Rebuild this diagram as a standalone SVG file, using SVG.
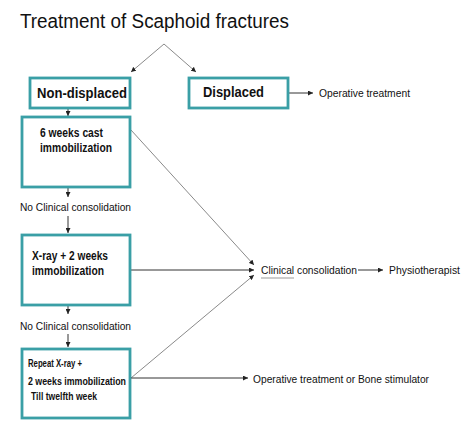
<svg xmlns="http://www.w3.org/2000/svg" width="474" height="443" viewBox="0 0 474 443">
<style>
.box{fill:#fff;stroke:#3a9fa6;stroke-width:2.8}
.t{font-family:"Liberation Sans",Arial,sans-serif;fill:#111}
.b{font-weight:bold}
.ln{fill:none;stroke:#8a8a8a;stroke-width:1}
.dk{fill:none;stroke:#333;stroke-width:1}
</style>
<defs>
<marker id="ah" viewBox="0 0 6 6" refX="6" refY="3" markerWidth="5" markerHeight="5" orient="auto" markerUnits="userSpaceOnUse">
<path d="M0,0 L6,3 L0,6 z" fill="#222"/>
</marker>
</defs>
<rect width="474" height="443" fill="#fff"/>
<text class="t" x="20" y="28" font-size="20" textLength="269" lengthAdjust="spacingAndGlyphs">Treatment of Scaphoid fractures</text>
<g id="connectors">
<path class="ln" d="M164,44 L131,72" marker-end="url(#ah)"/>
<path class="ln" d="M164,44 L196,72" marker-end="url(#ah)"/>
<path class="dk" d="M289,93 L313,93" marker-end="url(#ah)"/>
<path class="dk" d="M68,109 L68,116" marker-end="url(#ah)"/>
<path class="dk" d="M68,188 L68,197" marker-end="url(#ah)"/>
<path class="dk" d="M68,216 L68,233" marker-end="url(#ah)"/>
<path class="dk" d="M68,306 L68,314" marker-end="url(#ah)"/>
<path class="dk" d="M68,334 L68,347" marker-end="url(#ah)"/>
<path class="ln" d="M131,130 L254,265" marker-end="url(#ah)"/>
<path class="dk" d="M131,270 L254,270" marker-end="url(#ah)"/>
<path class="ln" d="M131,378 L254,275" marker-end="url(#ah)"/>
<path class="dk" d="M358,270 L383,270" marker-end="url(#ah)"/>
<path class="dk" d="M131,378 L248,378" marker-end="url(#ah)"/>
</g>
<g id="non-displaced">
<rect class="box" x="30" y="78" width="100" height="30"/>
<text class="t b" x="37" y="98" font-size="14" textLength="90" lengthAdjust="spacingAndGlyphs">Non-displaced</text>
</g>
<g id="displaced">
<rect class="box" x="189" y="78" width="99" height="30"/>
<text class="t b" x="203" y="97" font-size="14" textLength="61" lengthAdjust="spacingAndGlyphs">Displaced</text>
</g>
<g id="operative-treatment">
<text class="t" x="319" y="97" font-size="10.5" textLength="91" lengthAdjust="spacingAndGlyphs">Operative treatment</text>
</g>
<g id="cast">
<rect class="box" x="22" y="117" width="108" height="70"/>
<text class="t b" x="40" y="137" font-size="12" textLength="63" lengthAdjust="spacingAndGlyphs">6 weeks cast</text>
<text class="t b" x="40" y="152" font-size="12" textLength="72" lengthAdjust="spacingAndGlyphs">immobilization</text>
</g>
<g id="no-clinical-1">
<text class="t" x="20" y="211" font-size="11" textLength="111" lengthAdjust="spacingAndGlyphs">No Clinical consolidation</text>
</g>
<g id="xray">
<rect class="box" x="22" y="235" width="108" height="70"/>
<text class="t b" x="32" y="260" font-size="12" textLength="76" lengthAdjust="spacingAndGlyphs">X-ray + 2 weeks</text>
<text class="t b" x="32" y="275" font-size="12" textLength="72" lengthAdjust="spacingAndGlyphs">immobilization</text>
</g>
<g id="no-clinical-2">
<text class="t" x="20" y="330" font-size="11" textLength="111" lengthAdjust="spacingAndGlyphs">No Clinical consolidation</text>
</g>
<g id="repeat">
<rect class="box" x="22" y="349" width="108" height="69"/>
<text class="t" x="28" y="367" font-size="10.5" font-weight="600" textLength="54" lengthAdjust="spacingAndGlyphs">Repeat X-ray +</text>
<text class="t" x="28" y="385" font-size="11" font-weight="600" textLength="98" lengthAdjust="spacingAndGlyphs">2 weeks immobilization</text>
<text class="t" x="31" y="400" font-size="11" font-weight="600" textLength="66" lengthAdjust="spacingAndGlyphs">Till twelfth week</text>
</g>
<g id="clinical-consolidation">
<text class="t" x="261" y="274" font-size="11" textLength="96" lengthAdjust="spacingAndGlyphs">Clinical consolidation</text>
<path d="M261,278 L294,278" stroke="#999" stroke-width="1"/>
</g>
<g id="physiotherapist">
<text class="t" x="389" y="274" font-size="11" textLength="71" lengthAdjust="spacingAndGlyphs">Physiotherapist</text>
</g>
<g id="operative-bone">
<text class="t" x="253" y="383" font-size="11" textLength="176" lengthAdjust="spacingAndGlyphs">Operative treatment or Bone stimulator</text>
</g>
</svg>
